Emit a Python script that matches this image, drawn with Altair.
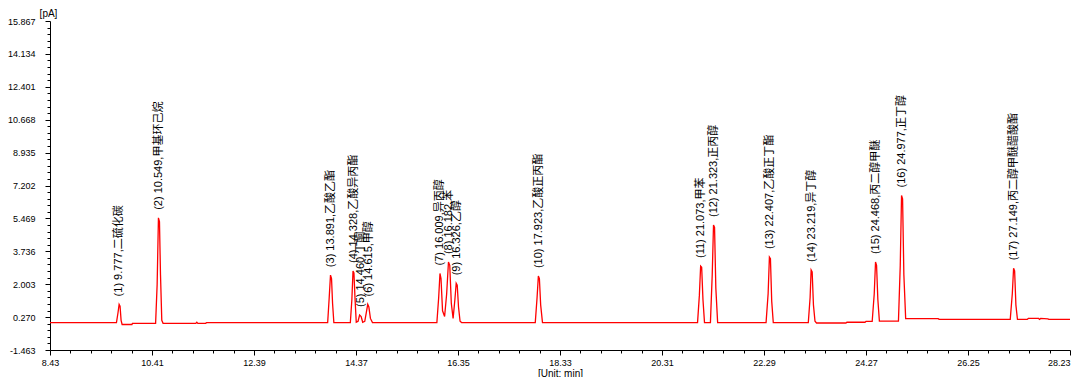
import altair as alt
import pandas as pd

# ---- detector trace (minutes, pA) ----
trace_time = [
    8.43,
    9.72, 9.75, 9.772, 9.79, 9.81, 9.83, 10.02, 10.03,
    10.48, 10.51, 10.535, 10.555, 10.575, 10.60, 10.625,
    11.26, 11.28, 11.30, 11.45, 11.47,
    13.82, 13.85, 13.875, 13.895, 13.915, 13.94,
    14.26, 14.29, 14.312, 14.33, 14.35, 14.375,
    14.41, 14.44, 14.47, 14.50,
    14.54, 14.57, 14.598, 14.62, 14.65, 14.69,
    15.94, 15.975, 16.0, 16.02, 16.05, 16.09,
    16.13, 16.165, 16.19, 16.22, 16.255,
    16.29, 16.315, 16.335, 16.36, 16.39, 16.42,
    17.85, 17.885, 17.91, 17.93, 17.955, 17.99,
    21.0, 21.035, 21.06, 21.08, 21.105, 21.135,
    21.25, 21.285, 21.31, 21.33, 21.355, 21.39,
    22.33, 22.37, 22.395, 22.415, 22.44, 22.47,
    23.15, 23.185, 23.205, 23.225, 23.25, 23.28, 23.31,
    23.88, 23.90, 24.25, 24.27,
    24.39, 24.43, 24.455, 24.475, 24.50, 24.53,
    24.74, 24.90, 24.935, 24.96, 24.98, 25.005, 25.04,
    25.67, 25.69,
    27.07, 27.11, 27.135, 27.155, 27.18, 27.21,
    27.40, 27.42, 27.62, 27.64, 27.66, 27.80, 27.82,
    28.23,
]
trace_signal = [
    -0.02,
    -0.02, 0.5, 0.94, 0.85, 0.1, -0.12, -0.12, -0.06,
    -0.06, 2.0, 5.5, 5.3, 2.5, 0.1, -0.06,
    -0.06, 0.0, -0.06, -0.06, -0.02,
    -0.02, 1.3, 2.48, 2.3, 1.0, -0.02,
    -0.02, 1.2, 2.7, 2.6, 1.3, 0.0,
    0.05, 0.38, 0.3, 0.0,
    0.05, 0.5, 0.94, 0.8, 0.2, -0.02,
    -0.02, 1.3, 2.57, 2.3, 0.6, 0.3,
    1.5, 3.17, 3.0, 1.0, 0.2,
    1.2, 2.05, 1.95, 0.8, 0.05, -0.02,
    -0.02, 1.3, 2.43, 2.3, 0.9, -0.02,
    -0.02, 1.4, 2.96, 2.9, 1.2, -0.02,
    -0.02, 2.5, 5.12, 5.0, 1.8, -0.02,
    -0.02, 1.5, 3.43, 3.35, 1.1, -0.02,
    -0.02, 1.3, 2.75, 2.65, 0.9, 0.05, -0.04,
    -0.04, 0.0, 0.0, 0.04,
    0.04, 1.5, 3.17, 3.0, 1.2, 0.06,
    0.06, 0.06, 3.0, 6.68, 6.5, 2.5, 0.19,
    0.19, 0.15,
    0.15, 1.5, 2.84, 2.7, 0.9, 0.15,
    0.15, 0.2, 0.2, 0.15, 0.2, 0.18, 0.15,
    0.15,
]

# ---- peak table ----
peak_no = list(range(1, 18))
peak_time = [9.777, 10.549, 13.891, 14.328, 14.460, 14.615, 16.009, 16.182,
             16.326, 17.923, 21.073, 21.323, 22.407, 23.219, 24.468, 24.977, 27.149]
peak_height = [0.94, 5.5, 2.48, 2.7, 0.38, 0.94, 2.57, 3.17,
               2.05, 2.43, 2.96, 5.12, 3.43, 2.75, 3.17, 6.68, 2.84]
peak_name = ["二硫化碳", "甲基环己烷", "乙酸乙酯", "乙酸异丙酯", "丁酮", "甲醇",
             "异丙醇", "苯", "乙醇", "乙酸正丙酯", "甲苯", "正丙醇", "乙酸正丁酯",
             "异丁醇", "丙二醇甲醚", "正丁醇", "丙二醇甲醚醋酸酯"]
peak_time_text = ["9.777", "10.549", "13.891", "14.328", "14.460", "14.615", "16.009",
                  "16.182", "16.326", "17.923", "21.073", "21.323", "22.407", "23.219",
                  "24.468", "24.977", "27.149"]

# ---- axis ticks ----
x_major = [8.43, 10.41, 12.39, 14.37, 16.35, 18.33, 20.31, 22.29, 24.27, 26.25, 28.23]
y_major = [-1.463, 0.270, 2.003, 3.736, 5.469, 7.202, 8.935, 10.668, 12.401, 14.134, 15.867]


def minor_of(major, n=5):
    vals = []
    for a, b in zip(major[:-1], major[1:]):
        for k in range(1, n):
            vals.append(round(a + (b - a) * k / n, 4))
    return vals


x_minor = minor_of(x_major)
y_minor = minor_of(y_major)

trace_df = pd.DataFrame({"time": trace_time, "signal": trace_signal})
peak_df = pd.DataFrame({
    "no": peak_no,
    "time": peak_time,
    "height": peak_height,
    "label": [f"({n}) {t},{name}" for n, t, name in zip(peak_no, peak_time_text, peak_name)],
})

FONT = "Arial, 'Liberation Sans', 'Noto Sans CJK SC', sans-serif"

x_scale = alt.Scale(domain=[8.43, 28.23], nice=False, zero=False)
y_scale = alt.Scale(domain=[-1.463, 15.867], nice=False, zero=False)

x_axis = alt.Axis(
    orient="bottom",
    values=x_major,
    grid=False,
    domainColor="#000000",
    tickColor="#000000",
    tickSize=5,
    format=".2f",
    labelFont=FONT,
    labelFontSize=9,
    labelColor="#000000",
    labelPadding=3,
    labelOverlap=False,
    labelFlush=False,
    labelAlign={"condition": {"test": f"datum.value >= {x_major[-1]}", "value": "right"},
                "value": "center"},
    title="[Unit: min]",
    titleFont=FONT,
    titleFontSize=10,
    titleFontWeight="normal",
    titleColor="#000000",
    titleBaseline="middle",
    titleY=23,
)
y_axis = alt.Axis(
    orient="left",
    values=y_major,
    grid=False,
    domainColor="#000000",
    tickColor="#000000",
    tickSize=5,
    labelExpr="replace(format(datum.value, '.3f'), '\u2212', '-')",
    labelFont=FONT,
    labelFontSize=9,
    labelColor="#000000",
    labelPadding=10,
    labelOverlap=False,
    labelFlush=False,
    title="[pA]",
    titleFont=FONT,
    titleFontSize=10,
    titleFontWeight="normal",
    titleColor="#000000",
    titleAngle=0,
    titleAlign="center",
    titleBaseline="middle",
    titleX=-2,
    titleY=-8,
)

x_minor_axis = alt.Axis(orient="bottom", values=x_minor, grid=False, labels=False,
                       domain=False, tickColor="#000000", tickSize=3, title="")
y_minor_axis = alt.Axis(orient="left", values=y_minor, grid=False, labels=False,
                       domain=False, tickColor="#000000", tickSize=3, title="")

line = alt.Chart(trace_df).mark_line(color="#ff0000", strokeWidth=1.3).encode(
    x=alt.X("time:Q", scale=x_scale, axis=x_axis),
    y=alt.Y("signal:Q", scale=y_scale, axis=y_axis),
    order="time:Q",
)

minor = alt.Chart(trace_df).mark_point(opacity=0).encode(
    x=alt.X("time:Q", scale=x_scale, axis=x_minor_axis),
    y=alt.Y("signal:Q", scale=y_scale, axis=y_minor_axis),
)

labels = alt.Chart(peak_df).mark_text(
    angle=270, align="left", baseline="middle", dx=8,
    font=FONT, fontSize=11, color="#000000",
).encode(
    x=alt.X("time:Q", scale=x_scale, axis=None),
    y=alt.Y("height:Q", scale=y_scale, axis=None),
    text="label:N",
)

chart = alt.layer(line, minor, labels).resolve_axis(
    x="independent", y="independent"
).properties(
    width=1020,
    height=329,
    autosize=alt.AutoSizeParams(type="none"),
    padding={"left": 42, "top": 13, "right": 4, "bottom": 27},
    background="#ffffff",
).configure_view(stroke=None)

chart.save("out.html", embed_options={"renderer": "svg", "actions": False})
